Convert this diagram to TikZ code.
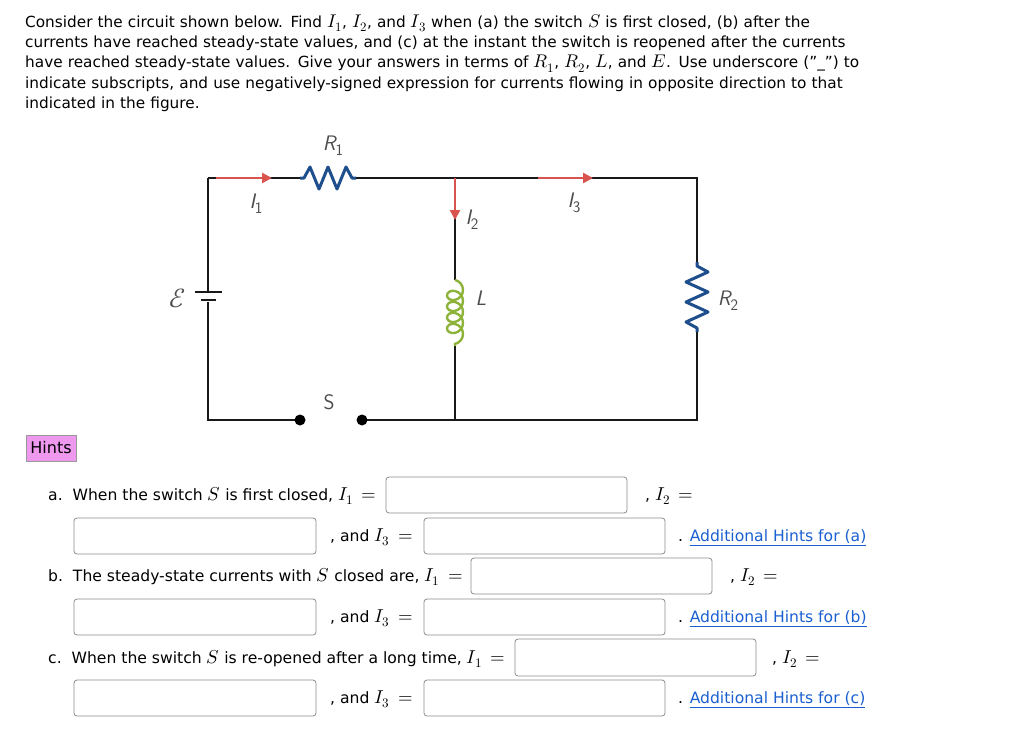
\documentclass[tikz,border=0pt]{standalone}
\usepackage{fontspec}
\setmainfont{DejaVu Sans}
\usepackage{unicode-math}
\setmathfont{Latin Modern Math}[Scale=1.2]
\usetikzlibrary{decorations.pathmorphing,arrows.meta}
\definecolor{wirered}{HTML}{D9534F}
\definecolor{resblue}{HTML}{1F4E8C}
\definecolor{indgreen}{HTML}{8DB33A}
\definecolor{linkblue}{HTML}{1A5FD0}
\definecolor{hintpink}{HTML}{EE99EE}
\newcommand{\sbs}[1]{\raisebox{-5pt}{\fontsize{16}{16}\selectfont\upshape #1}}
\tikzset{
 wire/.style={line width=2.6pt,black!90},
 cur/.style={line width=2.6pt,wirered,-{Triangle[length=10pt,width=10pt]}},
 res/.style={line width=3pt,resblue,line join=round},
 lbl/.style={font=\fontsize{21}{24}\selectfont\sffamily\itshape,text=black!70,inner sep=0pt},
 ansbox/.style={draw=black!45,rounded corners=3pt,line width=0.8pt},
 qtext/.style={anchor=base west,inner sep=0pt,font=\fontsize{15.6}{18}\selectfont},
}
\begin{document}
\begin{tikzpicture}[x=1pt,y=-1pt]
\useasboundingbox (0,0) rectangle (1024,747);
\node[anchor=north west,inner sep=0pt,text width=900pt,font=\fontsize{15.3}{20.4}\selectfont] (intro) at (25,14)
{Consider the circuit shown below. Find $I_1$, $I_2$, and $I_3$ when (a) the switch $S$ is first closed, (b) after the\\
currents have reached steady-state values, and (c) at the instant the switch is reopened after the currents\\
have reached steady-state values. Give your answers in terms of $R_1$, $R_2$, $L$, and $E$. Use underscore ("\_") to\\
indicate subscripts, and use negatively-signed expression for currents flowing in opposite direction to that\\
indicated in the figure.};
% circuit
\coordinate (tl) at (208,178); \coordinate (tr) at (697,178);
\coordinate (bl) at (208,420); \coordinate (br) at (697,420);
\coordinate (tm) at (455,178); \coordinate (bm) at (455,420);
\draw[wire] (tl) -- (300,178);
\draw[res] (300,178) -- (304,178) -- (310,167) -- (319,189) -- (328,167) -- (337,189) -- (346,167) -- (352,178) -- (356,178);
\draw[wire] (356,178) -- (tr) -- (697,262);
\draw[res] (697,262) -- (697,266) -- (708,272) -- (686,282) -- (708,292) -- (686,302) -- (708,312) -- (686,322) -- (697,328) -- (697,332);
\draw[wire] (697,332) -- (br) -- (bm) -- (362,420);
\draw[wire] (300,420) -- (bl) -- (208,302);
\draw[wire] (208,292) -- (tl);
\draw[wire] (195,292) -- (222,292);
\draw[wire] (201,300) -- (216,300);
\draw[wire] (tm) -- (455,280);
\draw[wire] (455,346) -- (bm);
\draw[indgreen,line width=2.4pt,decorate,decoration={coil,aspect=0.9,segment length=11pt,amplitude=8pt}] (455,280) -- (455,346);
\fill (300,420) circle (5.5pt);
\fill (362,420) circle (5.5pt);
\draw[cur] (216,178) -- (272,178);
\draw[cur] (538,178) -- (593,178);
\draw[cur] (455,178) -- (455,220);
\node[lbl] (R1) at (333,146) {R\sbs{1}};
\node[lbl] (I1) at (256,204) {I\sbs{1}};
\node[lbl] (I2) at (472,220) {I\sbs{2}};
\node[lbl] (I3) at (574,203) {I\sbs{3}};
\node[lbl] (L) at (481,298) {L};
\node[lbl] (R2) at (728,301) {R\sbs{2}};
\node[lbl] (S) at (329,402) {\upshape S};
\node[lbl,font=\fontsize{22}{24}\selectfont] (E) at (178,298) {$\mathcal{E}$};
% hints
\node[draw=black!40,fill=hintpink,inner sep=0pt,minimum width=50pt,minimum height=26pt,font=\fontsize{16}{18}\selectfont] (hints) at (51,448) {Hints};
% questions
\node[qtext] (qa) at (48,500) {a.\ \ When the switch $S$ is first closed, $I_1\,=$};
\draw[ansbox] (386,477) rectangle (627,513);
\node[qtext] at (645,500) {, $I_2\,=$};
\draw[ansbox] (74,518) rectangle (316,554);
\node[qtext] at (330,541) {, and $I_3\,=$};
\draw[ansbox] (424,518) rectangle (665,554);
\node[qtext] at (678,541) {. \textcolor{linkblue}{\underline{Additional Hints for (a)}}};
\node[qtext] (qb) at (48,581) {b.\ \ The steady-state currents with $S$ closed are, $I_1\,=$};
\draw[ansbox] (471,558) rectangle (712,594);
\node[qtext] at (730,581) {, $I_2\,=$};
\draw[ansbox] (74,599) rectangle (316,635);
\node[qtext] at (330,622) {, and $I_3\,=$};
\draw[ansbox] (424,599) rectangle (665,635);
\node[qtext] at (678,622) {. \textcolor{linkblue}{\underline{Additional Hints for (b)}}};
\node[qtext] (qc) at (48,663) {c.\ \ When the switch $S$ is re-opened after a long time, $I_1\,=$};
\draw[ansbox] (515,639) rectangle (756,676);
\node[qtext] at (772,663) {, $I_2\,=$};
\draw[ansbox] (74,680) rectangle (316,716);
\node[qtext] at (330,703) {, and $I_3\,=$};
\draw[ansbox] (424,680) rectangle (665,716);
\node[qtext] at (678,703) {. \textcolor{linkblue}{\underline{Additional Hints for (c)}}};
\end{tikzpicture}
\end{document}
